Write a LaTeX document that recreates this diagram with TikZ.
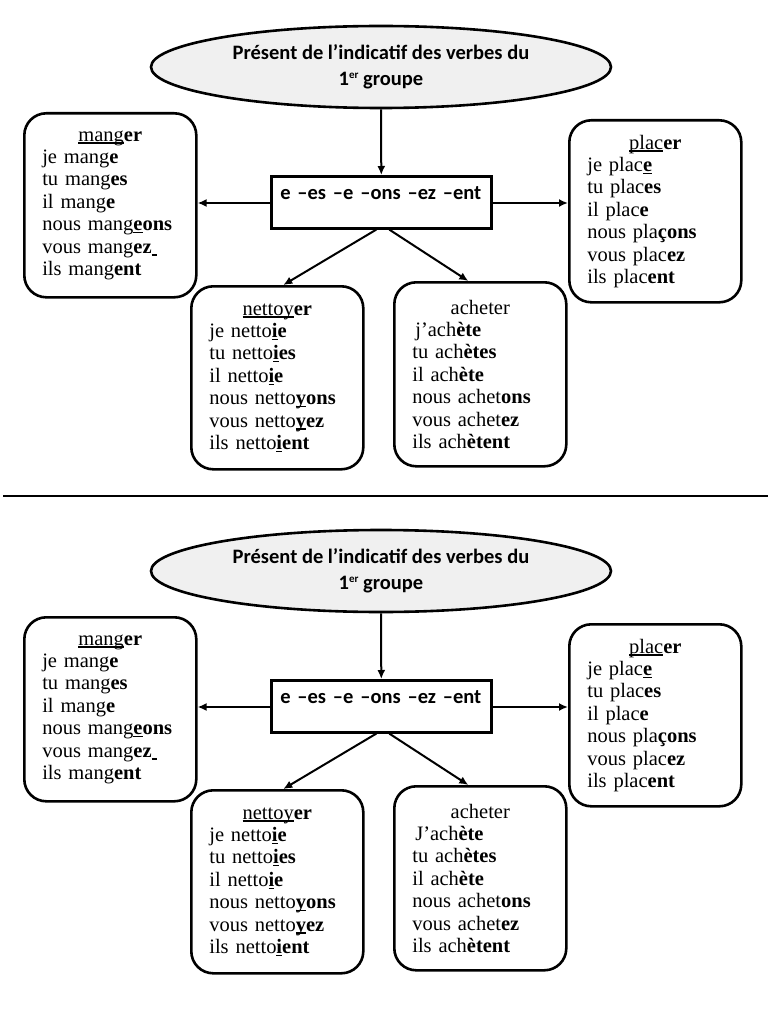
\documentclass[tikz,border=0pt]{standalone}
\usepackage{fontspec}
\setmainfont{Liberation Serif}
\newfontfamily\titlefont{Carlito}
\usetikzlibrary{shapes.geometric,arrows.meta}

\tikzset{
    titre/.style={ellipse, draw, line width=2.6pt, fill=gray!12, inner sep=0pt,
        minimum width=460pt, minimum height=82pt, align=center,
        font=\titlefont\bfseries\fontsize{20.5}{25.7}\selectfont},
    finbox/.style={draw, line width=2.6pt, anchor=north west, inner xsep=9pt, inner ysep=0pt,
        text width=202pt, text height=23pt, text depth=29pt, align=left,
        font=\titlefont\bfseries\fontsize{20.5}{25.7}\selectfont},
    verbbox/.style={draw, line width=2.6pt, rounded corners=22pt, anchor=north west,
        inner xsep=18pt, text width=136pt, align=left,
        font=\fontsize{20.5}{22.4}\selectfont},
    fleche/.style={line width=2pt, -{Latex[length=9pt,width=8pt]}}
}
\newcommand{\expo}[1]{\raisebox{7pt}{\fontsize{11}{11}\selectfont #1}}
\newcommand{\sousl}[1]{\setbox0\hbox{#1}\rlap{\rule[-2.6pt]{\wd0}{1.3pt}}\box0}

\begin{document}
\begin{tikzpicture}[x=1pt, y=-1pt]
    \useasboundingbox (0,0) rectangle (768,1024);

    % Separator line
    \draw[line width=2pt] (3,496) -- (768,496);

    % The two copies of the card
    \foreach \dy/\pronom in {0/j,504/J} {
    \begin{scope}[shift={(0,\dy)}]
        % Title and endings
        \node[titre] (titre\dy) at (381,67) {Présent de l’indicatif des verbes du\\ 1\expo{er} groupe};
        \node[finbox] (fin\dy) at (270,175) {e –es –e –ons –ez –ent};

        % Verb boxes
        \node[verbbox, minimum height=184pt] (manger\dy) at (23,112) {%
            \makebox[136pt]{\sousl{mang}\textbf{er}}\\
            je mang\textbf{e}\\
            tu mang\textbf{es}\\
            il mang\textbf{e}\\
            nous mang\textbf{\sousl{e}ons}\\
            vous mang\textbf{ez}\sousl{\hspace{5pt}}\\
            ils mang\textbf{ent}};
        \node[verbbox, minimum height=182pt] (placer\dy) at (568,119) {%
            \makebox[136pt]{\sousl{plac}\textbf{er}}\\
            je plac\textbf{\sousl{e}}\\
            tu plac\textbf{es}\\
            il plac\textbf{e}\\
            nous pla\textbf{çons}\\
            vous plac\textbf{ez}\\
            ils plac\textbf{ent}};
        \node[verbbox, minimum height=183pt] (nettoyer\dy) at (190,285) {%
            \makebox[136pt]{\sousl{nettoy}\textbf{er}}\\
            je netto\textbf{\sousl{i}e}\\
            tu netto\textbf{\sousl{i}es}\\
            il netto\textbf{\sousl{i}e}\\
            nous netto\textbf{\sousl{y}ons}\\
            vous netto\textbf{\sousl{y}ez}\\
            ils netto\textbf{\sousl{i}ent}};
        \node[verbbox, minimum height=184pt] (acheter\dy) at (393,281) {%
            \makebox[136pt]{acheter}\\
            \hspace*{3pt}\pronom’ach\textbf{ète}\\
            tu ach\textbf{ètes}\\
            il ach\textbf{ète}\\
            nous achet\textbf{ons}\\
            vous achet\textbf{ez}\\
            ils ach\textbf{ètent}};

        % Arrows
        \draw[fleche] (titre\dy.south) -- (fin\dy.north);
        \draw[fleche] ([yshift=-28pt]fin\dy.north west) -- ([yshift=-28pt]fin\dy.north west -| manger\dy.east);
        \draw[fleche] ([yshift=-28pt]fin\dy.north east) -- ([yshift=-28pt]fin\dy.north east -| placer\dy.west);
        \draw[fleche] ([xshift=-5pt]fin\dy.south) -- ([xshift=6pt]nettoyer\dy.north);
        \draw[fleche] ([xshift=8pt]fin\dy.south) -- ([xshift=-12pt]acheter\dy.north);
    \end{scope}
    }
\end{tikzpicture}
\end{document}
